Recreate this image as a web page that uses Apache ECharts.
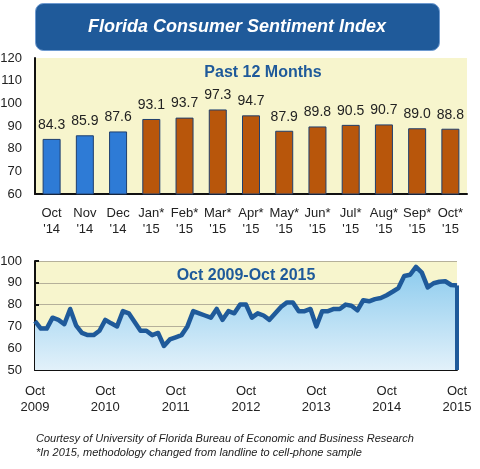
<!DOCTYPE html>
<html><head><meta charset="utf-8">
<script src="https://cdn.jsdelivr.net/npm/echarts@6/dist/echarts.min.js"></script>
<style>html,body{margin:0;padding:0;background:#fff}#c{width:480px;height:469px}</style>
</head><body><div id="c"></div>
<script>
var barCategories = ["Oct\n'14","Nov\n'14","Dec\n'14","Jan*\n'15","Feb*\n'15","Mar*\n'15","Apr*\n'15","May*\n'15","Jun*\n'15","Jul*\n'15","Aug*\n'15","Sep*\n'15","Oct*\n'15"];
var barValues = [84.3,85.9,87.6,93.1,93.7,97.3,94.7,87.9,89.8,90.5,90.7,89.0,88.8];
var barTicks = [60,70,80,90,100,110,120];

var lineValues = [
  72.4,69,69,
  74,73,71,78,70.5,67,66,66,68,73,71.4,70,
  77,76,72,68,68,66,67,61,64,65,66,70,
  77,76,75,74,78,73,77,76,80,80,74,76,
  75,73,76,79,81,81,77,77,78,70,77,77,
  78,78,80,79.5,77.4,82,81.5,82.5,83,84.3,85.9,87.6,
  93.1,93.7,97.3,94.7,87.9,89.8,90.5,90.7,89.0,88.8
];
var lineTicks = [50,60,70,80,90,100];
var monthNames = ['Jan','Feb','Mar','Apr','May','Jun','Jul','Aug','Sep','Oct','Nov','Dec'];
var lineCategories = [];
for (var i = 0; i < lineValues.length; i++) {
  var m = (9 + i) % 12, y = 2009 + Math.floor((9 + i) / 12);
  lineCategories.push(monthNames[m] + ' ' + y);
}

var blue = '#2E7BD6', orange = '#B8560B', navy = '#1F5A9A';
var FONT = '"Liberation Sans", Arial, sans-serif';
var chart = echarts.init(document.getElementById('c'));
chart.setOption({
  animation: false,
  textStyle: {fontFamily: FONT},
  grid: [
    {left: 35, right: 13, top: 58, height: 136, show: true, backgroundColor: '#F7F5CD', borderWidth: 0,
     containLabel: false, outerBoundsMode: 'none'},
    {left: 35, right: 23, top: 261, height: 109, show: true, backgroundColor: '#F7F5CD', borderWidth: 0,
     containLabel: false, outerBoundsMode: 'none'}
  ],
  graphic: [
    {type: 'rect', left: 35, top: 3, shape: {width: 404, height: 47, r: 8},
     style: {fill: navy, stroke: '#6E9AD0', lineWidth: 1}},
    {type: 'text', x: 237, y: 27, style: {text: 'Florida Consumer Sentiment Index', fill: '#fff',
     font: 'italic bold 18px ' + FONT, align: 'center', verticalAlign: 'middle'}},
    {type: 'text', x: 263, y: 73, style: {text: 'Past 12 Months', fill: navy,
     font: 'bold 16px ' + FONT, align: 'center', verticalAlign: 'middle'}, z: 10},
    {type: 'text', x: 246, y: 276, style: {text: 'Oct 2009-Oct 2015', fill: navy,
     font: 'bold 16px ' + FONT, align: 'center', verticalAlign: 'middle'}, z: 10},
    {type: 'text', x: 36, y: 439, style: {text: 'Courtesy of University of Florida Bureau of Economic and Business Research', fill: '#222',
     font: 'italic 11px ' + FONT, verticalAlign: 'middle'}},
    {type: 'text', x: 36, y: 453, style: {text: '*In 2015, methodology changed from landline to cell-phone sample', fill: '#222',
     font: 'italic 11px ' + FONT, verticalAlign: 'middle'}}
  ],
  xAxis: [
    {type: 'category', gridIndex: 0, data: barCategories,
     axisLine: {lineStyle: {color: '#111', width: 2}}, axisTick: {show: false},
     axisLabel: {color: '#222', fontSize: 13, lineHeight: 16, margin: 11, interval: 0}},
    {type: 'category', gridIndex: 1, data: lineCategories, boundaryGap: false,
     axisLine: {lineStyle: {color: '#111', width: 2}},
     axisTick: {show: true, length: 4, inside: true, lineStyle: {color: '#111', width: 2},
       interval: function (i) { return i % 12 === 0; }},
     axisLabel: {color: '#222', fontSize: 13, lineHeight: 16, margin: 13, showMaxLabel: true,
       interval: function (i) { return i % 12 === 0; },
       formatter: function (v) { var p = v.split(' '); return p[0] + '\n' + p[1]; }}}
  ],
  yAxis: [
    {type: 'value', gridIndex: 0, min: barTicks[0], max: barTicks[barTicks.length - 1], interval: 10,
     axisLine: {show: true, lineStyle: {color: '#111', width: 2}}, axisTick: {show: false},
     splitLine: {show: false}, axisLabel: {color: '#222', fontSize: 13, margin: 13}},
    {type: 'value', gridIndex: 1, min: lineTicks[0], max: lineTicks[lineTicks.length - 1], interval: 10,
     axisLine: {show: true, lineStyle: {color: '#111', width: 2}},
     axisTick: {show: true, inside: true, length: 4, lineStyle: {color: '#111', width: 2}},
     splitLine: {show: true, lineStyle: {color: '#B5B09A', width: 1}},
     axisLabel: {color: '#222', fontSize: 13, margin: 13}}
  ],
  series: [
    {type: 'bar', xAxisIndex: 0, yAxisIndex: 0, data: barValues, barWidth: 18,
     itemStyle: {
       color: function (p) { return p.name.indexOf('*') >= 0 ? orange : blue; },
       borderColor: '#1F3F6E', borderWidth: 1
     },
     label: {show: true, position: 'top', distance: 7, color: '#222', fontSize: 14,
       formatter: function (p) { return p.value.toFixed(1); }}},
    {type: 'line', xAxisIndex: 1, yAxisIndex: 1, data: lineValues, symbol: 'none',
     lineStyle: {color: navy, width: 4.5, join: 'round'},
     areaStyle: {color: new echarts.graphic.LinearGradient(0, 0, 0, 1, [
       {offset: 0, color: '#8CCBEE'}, {offset: 1, color: '#E2F1FA'}]), opacity: 1},
     markLine: {silent: true, symbol: 'none', label: {show: false},
       lineStyle: {color: navy, width: 4, type: 'solid'},
       data: [[{coord: [lineCategories.length - 1, lineTicks[0]]},
               {coord: [lineCategories.length - 1, lineValues[lineValues.length - 1]]}]]}}
  ]
});
</script></body></html>
